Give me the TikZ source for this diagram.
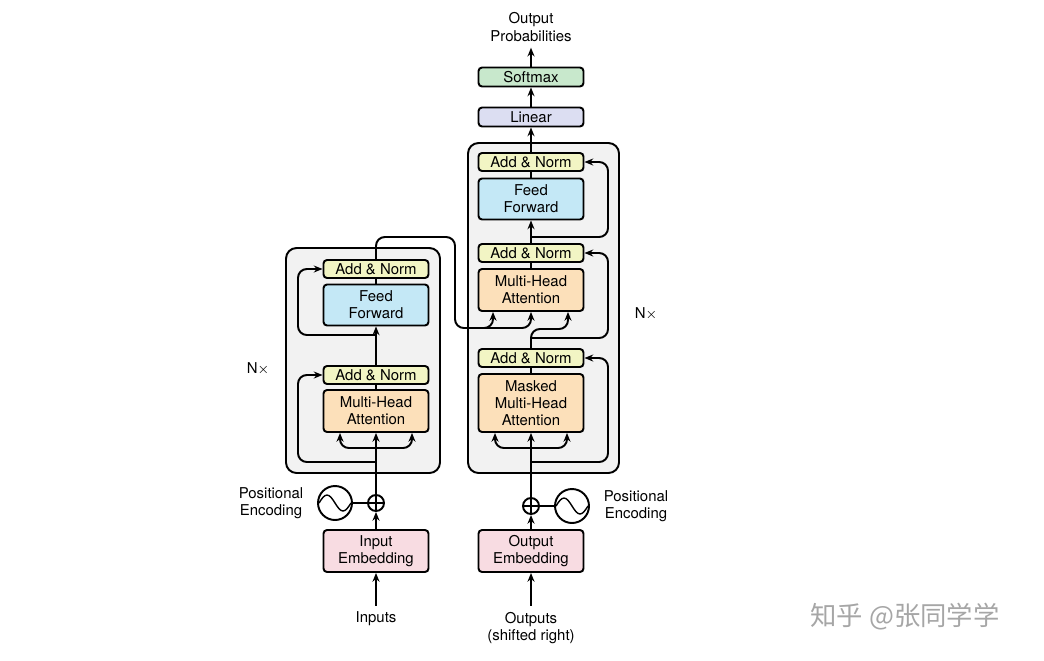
\documentclass[tikz,border=0pt]{standalone}
\usepackage{fontspec}
\setmainfont{TeX Gyre Heros}
\newfontfamily\cjk{Noto Sans CJK SC}
\usetikzlibrary{arrows.meta}

\tikzset{
  block/.style={draw, line width=1.1pt, rounded corners=2pt, minimum width=2.1cm, inner sep=0pt, align=center, font=\fontsize{8.5}{9.5}\selectfont},
  addnorm/.style={block, fill={rgb,255:red,242;green,245;blue,196}, minimum height=0.36cm},
  ffwd/.style={block, fill={rgb,255:red,196;green,232;blue,246}, minimum height=0.82cm},
  attn/.style={block, fill={rgb,255:red,252;green,224;blue,186}, minimum height=0.84cm},
  embed/.style={block, fill={rgb,255:red,248;green,220;blue,226}, minimum height=0.84cm},
  layer/.style={draw, line width=1.1pt, rounded corners=6pt, fill={rgb,255:red,242;green,242;blue,242}},
  label/.style={align=center, font=\fontsize{8.5}{10}\selectfont},
  wire/.style={line width=1.1pt, rounded corners=5pt}
}

\begin{document}
\begin{tikzpicture}[x=0.02cm, y=-0.02cm, >={Stealth[length=5pt,width=4pt]}]
  \useasboundingbox (0,0) rectangle (1044,660);

  % layer boxes
  \draw[layer] (286,248) rectangle (440,473);
  \draw[layer] (468,143) rectangle (619,473);

  % encoder
  \node[addnorm] (an2) at (376,269) {Add \& Norm};
  \node[ffwd] (ff1) at (376,305) {Feed\\Forward};
  \node[addnorm] (an1) at (376,375) {Add \& Norm};
  \node[attn] (mha1) at (376,411) {Multi-Head\\Attention};
  \node[draw, circle, line width=1.1pt, minimum size=0.32cm, inner sep=0pt] (plus1) at (376,503) {};
  \draw[line width=1pt] (plus1.north) -- (plus1.south) (plus1.west) -- (plus1.east);
  \node[draw, circle, line width=1.1pt, minimum size=0.68cm, inner sep=0pt] (sin1) at (335,503) {};
  \draw[line width=0.8pt] (319,503) sin (327,495) cos (335,503) sin (343,511) cos (351,503);
  \node[embed] (emb1) at (376,551) {Input\\Embedding};
  \node[label] (inputs) at (376,619) {Inputs};
  \node[label] (pe1) at (271,503) {Positional\\Encoding};
  \node[label] (nx1) at (258,369) {N$\times$};

  % decoder
  \node[addnorm] (an5) at (531,162) {Add \& Norm};
  \node[ffwd] (ff2) at (531,199) {Feed\\Forward};
  \node[addnorm] (an4) at (531,253) {Add \& Norm};
  \node[attn] (mha3) at (531,290) {Multi-Head\\Attention};
  \node[addnorm] (an3) at (531,358) {Add \& Norm};
  \node[attn, minimum height=1.16cm] (mha2) at (531,403) {Masked\\Multi-Head\\Attention};
  \node[draw, circle, line width=1.1pt, minimum size=0.32cm, inner sep=0pt] (plus2) at (531,506) {};
  \draw[line width=1pt] (plus2.north) -- (plus2.south) (plus2.west) -- (plus2.east);
  \node[draw, circle, line width=1.1pt, minimum size=0.68cm, inner sep=0pt] (sin2) at (572,506) {};
  \draw[line width=0.8pt] (556,506) sin (564,498) cos (572,506) sin (580,514) cos (588,506);
  \node[embed] (emb2) at (531,551) {Output\\Embedding};
  \node[label] (outputs) at (531,628) {Outputs\\(shifted right)};
  \node[label] (pe2) at (636,506) {Positional\\Encoding};
  \node[label] (nx2) at (646,314) {N$\times$};

  % head
  \node[block, fill={rgb,255:red,220;green,222;blue,242}, minimum height=0.38cm] (lin) at (531,117) {Linear};
  \node[block, fill={rgb,255:red,200;green,232;blue,204}, minimum height=0.38cm] (soft) at (531,77) {Softmax};
  \node[label] (prob) at (531,27) {Output\\Probabilities};

  % encoder wires
  \draw[wire,->] (inputs) -- (emb1);
  \draw[wire,->] (emb1) -- (plus1);
  \draw[wire] (sin1) -- (plus1);
  \draw[wire,->] (plus1) -- (mha1);
  \draw[wire,->] (376,448) -| ([xshift=-0.72cm]mha1.south);
  \draw[wire,->] (376,448) -| ([xshift=0.72cm]mha1.south);
  \draw[wire,->] (376,462) -| (298,375) -- (an1.west);
  \draw[wire] (mha1) -- (an1);
  \draw[wire,->] (an1) -- (ff1);
  \draw[wire,->] (376,335) -| (298,269) -- (an2.west);
  \draw[wire] (ff1) -- (an2);
  \draw[wire,->] (an2.north) |- (455,237) |- (493,328) -- ([xshift=-0.76cm]mha3.south);
  \draw[wire,->] (480,328) -| (mha3.south);

  % decoder wires
  \draw[wire,->] (outputs) -- (emb2);
  \draw[wire,->] (emb2) -- (plus2);
  \draw[wire] (sin2) -- (plus2);
  \draw[wire,->] (plus2) -- (mha2);
  \draw[wire,->] (531,448) -| ([xshift=-0.72cm]mha2.south);
  \draw[wire,->] (531,448) -| ([xshift=0.72cm]mha2.south);
  \draw[wire,->] (531,462) -| (608,358) -- (an3.east);
  \draw[wire] (mha2) -- (an3);
  \draw[wire,->] (an3.north) |- (568,329) -- ([xshift=0.74cm]mha3.south);
  \draw[wire,->] (531,338) -| (608,253) -- (an4.east);
  \draw[wire] (mha3) -- (an4);
  \draw[wire,->] (an4) -- (ff2);
  \draw[wire,->] (531,237) -| (608,162) -- (an5.east);
  \draw[wire] (ff2) -- (an5);
  \draw[wire,->] (an5) -- (lin);
  \draw[wire,->] (lin) -- (soft);
  \draw[wire,->] (soft) -- (prob);

  % watermark
  \node[font=\cjk\fontsize{15}{16}\selectfont, text=gray!70] (mark) at (905,617) {知乎 @张同学学};
\end{tikzpicture}
\end{document}
